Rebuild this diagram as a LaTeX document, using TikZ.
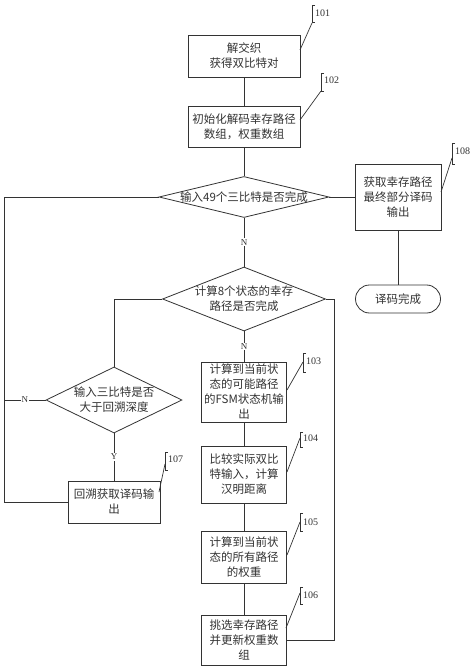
\documentclass[tikz,border=0pt]{standalone}
\usepackage{fontspec}
\setmainfont{Liberation Serif}
\newfontfamily\cjk{Noto Sans CJK SC}
\usetikzlibrary{shapes.geometric}
\tikzset{
  ln/.style={draw=black!80, line width=0.8pt},
  box/.style={ln, rectangle, inner sep=0pt, align=center, font=\cjk\fontsize{11.5}{15}\selectfont, text=black!80},
  dia/.style={ln, diamond, inner sep=0pt},
  dtext/.style={inner sep=0pt, align=center, font=\cjk\fontsize{11.5}{15}\selectfont, text=black!80},
  term/.style={ln, rectangle, rounded corners=14pt, inner sep=0pt, align=center, font=\cjk\fontsize{11.5}{15}\selectfont, text=black!80},
  yn/.style={fill=white, inner sep=1pt, font=\fontsize{9}{10}\selectfont, text=black!80},
  tag/.style={anchor=west, inner sep=1pt, font=\fontsize{10}{11}\selectfont, text=black!80},
  leader/.style={draw=black!80, line width=0.7pt}
}
\newcommand{\brk}[4]{% name, x, ytop, ybottom
  \draw[leader] (#2+3,#3) -- (#2,#3) -- (#2,#4) -- (#2+3,#4);
}
\begin{document}
\begin{tikzpicture}[x=1pt,y=-1pt]
\useasboundingbox (0,0) rectangle (474,668);
\fill[white] (0,0) rectangle (474,668);

% main column
\node[box, minimum width=112pt, minimum height=42pt] (b101) at (244,56) {解交织\\获得双比特对};
\node[box, minimum width=112pt, minimum height=41pt] (b102) at (244,126.5) {初始化解码幸存路径\\数组，权重数组};
\node[dia, minimum width=170pt, minimum height=41pt] (d1) at (244,197) {};
\node[dtext] (d1t) at (244,197) {输入49个三比特是否完成};
\node[box, minimum width=86pt, minimum height=66pt] (b108) at (398,197) {获取幸存路径\\最终部分译码\\输出};
\node[term, minimum width=85pt, minimum height=28pt] (t1) at (398,299) {译码完成};
\node[dia, minimum width=163pt, minimum height=64pt] (d2) at (244,299) {};
\node[dtext] (d2t) at (244,299) {计算8个状态的幸存\\路径是否完成};
\node[box, minimum width=85pt, minimum height=60pt] (b103) at (244,392) {计算到当前状\\态的可能路径\\的FSM状态机输\\出};
\node[box, minimum width=85pt, minimum height=57pt] (b104) at (244,474.5) {比较实际双比\\特输入，计算\\汉明距离};
\node[box, minimum width=85pt, minimum height=52pt] (b105) at (244,557) {计算到当前状\\态的所有路径\\的权重};
\node[box, minimum width=85pt, minimum height=50pt] (b106) at (244,640) {挑选幸存路径\\并更新权重数\\组};
\node[dia, minimum width=136pt, minimum height=66pt] (d3) at (114,400) {};
\node[dtext] (d3t) at (114,400) {输入三比特是否\\大于回溯深度};
\node[box, minimum width=92pt, minimum height=42pt] (b107) at (114,502) {回溯获取译码输\\出};

\coordinate (lc) at (4,197);
\coordinate (rc) at (334,299);

% connectors
\draw[ln] (b101) -- (b102);
\draw[ln] (b102) -- (d1.north);
\draw[ln] (d1.east) -- (b108.west);
\draw[ln] (b108) -- (t1);
\draw[ln] (d1.south) -- node[yn] {N} (d2.north);
\draw[ln] (d2.south) -- node[yn] {N} (b103.north);
\draw[ln] (b103) -- (b104);
\draw[ln] (b104) -- (b105);
\draw[ln] (b105) -- (b106);
\draw[ln] (b106.east) -| (rc) -- (d2.east);
\draw[ln] (d2.west) -| (d3.north);
\draw[ln] (d3.south) -- node[yn] {Y} (b107.north);
\draw[ln] (d3.west) -- node[yn] {N} (lc |- d3.west);
\draw[ln] (b107.west) -| (lc) -- (d1.west);

% reference tags
\brk{101}{312}{5}{22}
\node[tag] (l101) at (314,13) {101};
\draw[leader] (300,50) -- (312,23);
\brk{102}{321}{73}{91}
\node[tag] (l102) at (323,80) {102};
\draw[leader] (300,120) -- (321,91);
\brk{108}{452}{143}{164}
\node[tag] (l108) at (454,151) {108};
\draw[leader] (441,192) -- (452,158);
\brk{103}{303}{353}{372}
\node[tag] (l103) at (305,361) {103};
\draw[leader] (287,390) -- (303,362);
\brk{104}{300}{432}{447}
\node[tag] (l104) at (302,438) {104};
\draw[leader] (287,472) -- (300,438);
\brk{105}{300}{513}{531}
\node[tag] (l105) at (302,522) {105};
\draw[leader] (287,555) -- (300,522);
\brk{106}{300}{587}{604}
\node[tag] (l106) at (302,595) {106};
\draw[leader] (286,628) -- (300,593);
\brk{107}{165}{452}{470}
\node[tag] (l107) at (167,459) {107};
\draw[leader] (159,492) -- (165,464);
\end{tikzpicture}
\end{document}
